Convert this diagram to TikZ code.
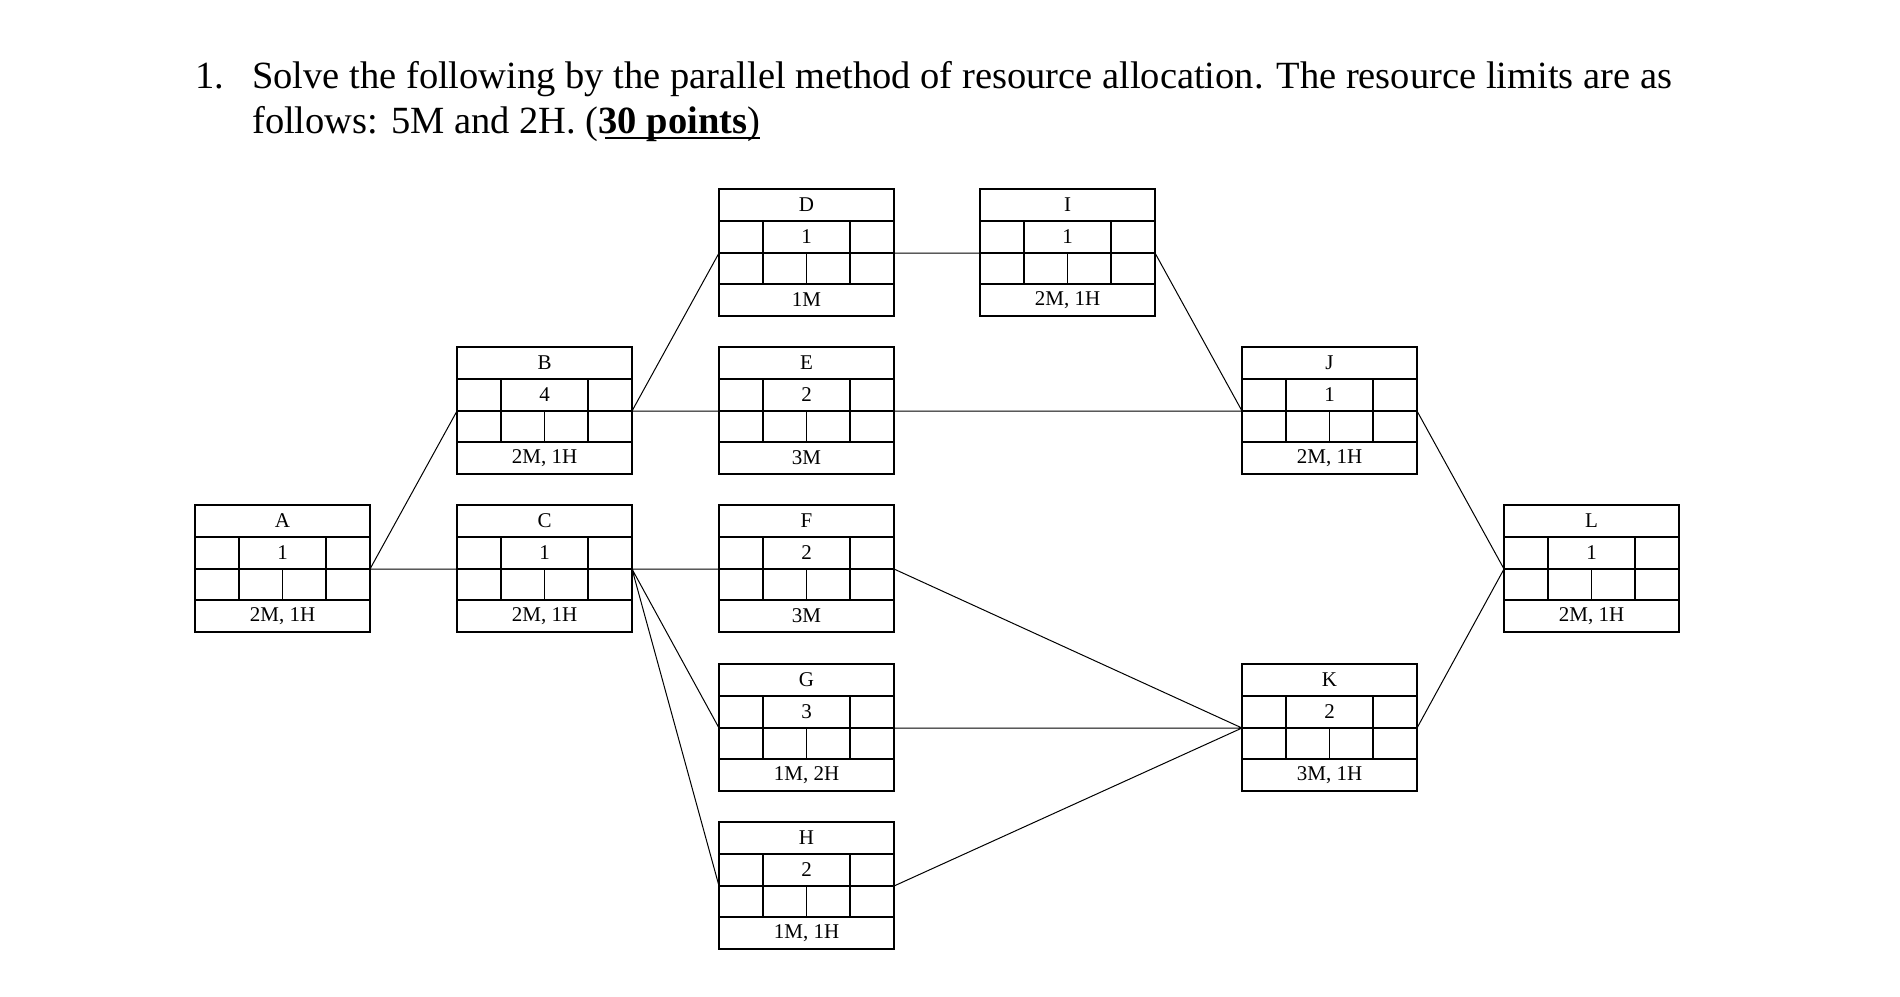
\documentclass[tikz,border=0pt]{standalone}
\usepackage{fontspec}
\setmainfont{Liberation Serif}
\begin{document}
\begin{tikzpicture}[x=1pt,y=-1pt,
  bx/.style={draw,line width=1.3pt},
  ln/.style={line width=1pt},
  lbl/.style={font=\fontsize{21}{23}\selectfont,anchor=center}]
\useasboundingbox[fill=white] (0,0) rectangle (1900,996);
\newcommand{\actbox}[5]{% name, x, y, letter, dur
  \begin{scope}[shift={(#2,#3)}]
  \draw[bx] (0,0) rectangle (175,127);
  \draw[bx] (0,32)--(175,32) (0,64)--(175,64) (0,95)--(175,95);
  \draw[bx] (44,32)--(44,95) (131,32)--(131,95) (87.5,64)--(87.5,95);
  \node[lbl] at (87.5,16) {#4};
  \node[lbl] at (87.5,48) {#5};
  \coordinate (#1l) at (0,64);
  \coordinate (#1r) at (175,64);
  \end{scope}}
\newcommand{\res}[3]{\node[lbl] at (#1+87.5,#2+111) {#3};}
\actbox{A}{195}{505}{A}{1}\res{195}{505}{2M, 1H}
\actbox{B}{457}{347}{B}{4}\res{457}{347}{2M, 1H}
\actbox{C}{457}{505}{C}{1}\res{457}{505}{2M, 1H}
\actbox{D}{719}{189}{D}{1}\res{719}{189}{1M}
\actbox{E}{719}{347}{E}{2}\res{719}{347}{3M}
\actbox{F}{719}{505}{F}{2}\res{719}{505}{3M}
\actbox{G}{719}{664}{G}{3}\res{719}{664}{1M, 2H}
\actbox{H}{719}{822}{H}{2}\res{719}{822}{1M, 1H}
\actbox{I}{980}{189}{I}{1}\res{980}{189}{2M, 1H}
\actbox{J}{1242}{347}{J}{1}\res{1242}{347}{2M, 1H}
\actbox{K}{1242}{664}{K}{2}\res{1242}{664}{3M, 1H}
\actbox{L}{1504}{505}{L}{1}\res{1504}{505}{2M, 1H}
\draw[ln] (Ar)--(Bl) (Ar)--(Cl) (Br)--(Dl) (Br)--(El) (Cr)--(Fl) (Cr)--(Gl) (Cr)--(Hl)
  (Dr)--(Il) (Ir)--(Jl) (Er)--(Jl) (Fr)--(Kl) (Gr)--(Kl) (Hr)--(Kl) (Jr)--(Ll) (Kr)--(Ll);
\node[anchor=base west,font=\fontsize{38.5}{42}\selectfont,inner sep=0] (n1) at (195,88) {1.};
\node[anchor=base west,font=\fontsize{38.5}{42}\selectfont,inner sep=0] (t1) at (252,88) {Solve the following by the parallel method of resource allocation. The resource limits are as};
\node[anchor=base west,font=\fontsize{38.5}{42}\selectfont,inner sep=0] (t2) at (252,133) {follows: 5M and 2H. (\textbf{30 points})};
\draw[line width=2.5pt] ([xshift=15pt,yshift=-5pt]t2.base east) ++(-170,0) -- ++(155,0);
\end{tikzpicture}
\end{document}
